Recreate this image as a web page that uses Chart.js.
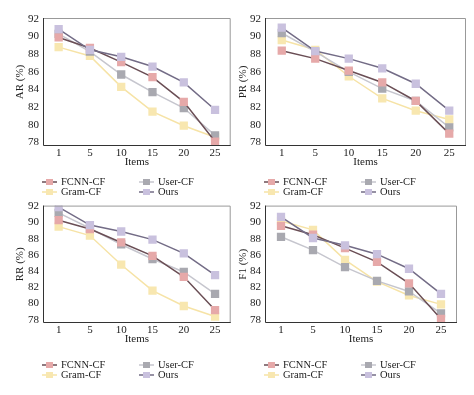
<!DOCTYPE html>
<html>
<head>
<meta charset="utf-8">
<script src="https://cdn.jsdelivr.net/npm/chart.js@4"></script>
<style>
  body { margin: 0; background: #fff; }
  .panel { position: absolute; width: 237px; height: 195px; }
</style>
</head>
<body>
<div class="panel" style="left:0;top:0"><canvas id="arChart"></canvas></div>
<div class="panel" style="left:237px;top:0"><canvas id="prChart"></canvas></div>
<div class="panel" style="left:0;top:195px;height:200px"><canvas id="rrChart"></canvas></div>
<div class="panel" style="left:237px;top:195px;height:200px"><canvas id="f1Chart"></canvas></div>
<script>
const items = ["1", "5", "10", "15", "20", "25"];
const yTicks = [78, 80, 82, 84, 86, 88, 90, 92];

// AR (%)
const arFcnn = [89.9, 88.7, 87.1, 85.4, 82.6, 78.1];
const arGram = [88.8, 87.8, 84.3, 81.5, 79.9, 78.6];
const arUser = [90.3, 88.3, 85.7, 83.7, 81.9, 78.8];
const arOurs = [90.85, 88.5, 87.7, 86.6, 84.8, 81.7];

// PR (%)
const prFcnn = [88.4, 87.5, 86.15, 84.8, 82.7, 79.0];
const prGram = [89.6, 88.5, 85.5, 83.0, 81.6, 80.6];
const prUser = [90.4, 88.3, 86.0, 84.1, 82.7, 79.7];
const prOurs = [91.0, 88.35, 87.5, 86.4, 84.65, 81.6];

// RR (%)
const rrFcnn = [90.3, 89.2, 87.55, 85.9, 83.3, 79.2];
const rrGram = [89.5, 88.4, 84.8, 81.6, 79.7, 78.4];
const rrUser = [91.2, 89.3, 87.3, 85.5, 83.9, 81.2];
const rrOurs = [91.9, 89.7, 88.9, 87.9, 86.2, 83.5];

// F1 (%)
const f1Fcnn = [89.6, 88.5, 86.85, 85.15, 82.5, 78.1];
const f1Gram = [90.2, 89.1, 85.4, 82.7, 81.0, 79.9];
const f1User = [88.25, 86.6, 84.5, 82.8, 81.5, 78.8];
const f1Ours = [90.7, 88.1, 87.2, 86.1, 84.3, 81.2];

const seriesStyle = {
  "FCNN-CF": { line: "#6a4e55", point: "#e6a9a9" },
  "Gram-CF": { line: "#f6e3a6", point: "#f8e7b0" },
  "User-CF": { line: "#c6c6ce", point: "#a9a9b0" },
  "Ours":    { line: "#736c86", point: "#c9c1de" }
};

const FONT = "'Liberation Serif', 'DejaVu Serif', serif";
const FS = 11;

// frame around the plot area: dark left/bottom, grey top/right
const framePlugin = {
  id: "frame",
  afterDraw(chart) {
    const { ctx, chartArea: a } = chart;
    ctx.save();
    ctx.lineWidth = 1;
    ctx.strokeStyle = "#999";
    ctx.beginPath();
    ctx.moveTo(a.left, a.top + 0.5);
    ctx.lineTo(a.right - 0.5, a.top + 0.5);
    ctx.lineTo(a.right - 0.5, a.bottom);
    ctx.stroke();
    ctx.strokeStyle = "#333";
    ctx.beginPath();
    ctx.moveTo(a.left + 0.5, a.top);
    ctx.lineTo(a.left + 0.5, a.bottom - 0.5);
    ctx.lineTo(a.right, a.bottom - 0.5);
    ctx.stroke();
    ctx.restore();
  }
};

// 2x2 legend, column-major: FCNN / Gram on the left, User / Ours on the right
const legendPlugin = {
  id: "gridLegend",
  afterDraw(chart, args, opts) {
    const { ctx } = chart;
    ctx.save();
    ctx.font = "10.5px " + FONT;
    ctx.textBaseline = "middle";
    chart.data.datasets.forEach((ds, i) => {
      const col = Math.floor(i / 2), row = i % 2;
      const x = opts.x + col * opts.colGap;
      const y = opts.y + row * opts.rowGap;
      ctx.strokeStyle = ds.borderColor;
      ctx.lineWidth = 1.5;
      ctx.beginPath();
      ctx.moveTo(x, y);
      ctx.lineTo(x + 15, y);
      ctx.stroke();
      ctx.fillStyle = ds.pointBackgroundColor;
      ctx.fillRect(x + 4, y - 3, 7, 6);
      ctx.fillStyle = "#222";
      ctx.fillText(ds.label, x + 19, y + 0.5);
    });
    ctx.restore();
  }
};

function makeChart(id, yLabel, fcnn, gram, user, ours, box) {
  const data = { "FCNN-CF": fcnn, "Gram-CF": gram, "User-CF": user, "Ours": ours };
  const datasets = Object.keys(data).map(name => ({
    label: name,
    data: data[name],
    borderColor: seriesStyle[name].line,
    pointBackgroundColor: seriesStyle[name].point,
    pointBorderColor: seriesStyle[name].point,
    pointStyle: "rect",
    pointRadius: 4.8,
    borderWidth: 1.5,
    tension: 0
  }));
  // draw "Ours" on top, FCNN next
  datasets[0].order = 1;
  datasets[3].order = 0;
  datasets[1].order = 3;
  datasets[2].order = 2;

  return new Chart(document.getElementById(id), {
    type: "line",
    data: { labels: items, datasets },
    options: {
      responsive: true,
      maintainAspectRatio: false,
      animation: false,
      layout: { padding: { left: box.left, right: box.right, top: box.top, bottom: box.bottom } },
      plugins: {
        legend: { display: false },
        tooltip: { enabled: false },
        gridLegend: box.legend
      },
      scales: {
        x: {
          offset: true,
          grid: { display: false, drawTicks: false },
          border: { display: false },
          ticks: { color: "#222", font: { family: FONT, size: FS }, padding: 1, maxRotation: 0 },
          title: { display: true, text: "Items", color: "#222", font: { family: FONT, size: FS }, padding: { top: 0, bottom: 0 } },
          afterFit: s => { s.height = box.xh; }
        },
        y: {
          min: 77.6,
          max: 92.1,
          afterBuildTicks: s => { s.ticks = yTicks.map(v => ({ value: v })); },
          grid: { display: false, drawTicks: false },
          border: { display: false },
          ticks: { color: "#222", font: { family: FONT, size: FS }, padding: 4, autoSkip: false },
          title: { display: true, text: yLabel, color: "#222", font: { family: FONT, size: FS }, padding: { top: 0, bottom: 2 } },
          afterFit: s => { s.width = box.yw; }
        }
      }
    },
    plugins: [framePlugin, legendPlugin]
  });
}

makeChart("arChart", "AR (%)", arFcnn, arGram, arUser, arOurs,
  { left: 14, yw: 29, right: 4, top: 18, xh: 23, bottom: 26, legend: { x: 42, y: 182, colGap: 97, rowGap: 10 } });
makeChart("prChart", "PR (%)", prFcnn, prGram, prUser, prOurs,
  { left: 0, yw: 28, right: 8, top: 18, xh: 23, bottom: 26, legend: { x: 27, y: 182, colGap: 97, rowGap: 10 } });
makeChart("rrChart", "RR (%)", rrFcnn, rrGram, rrUser, rrOurs,
  { left: 14, yw: 29, right: 4, top: 7, xh: 23, bottom: 49, legend: { x: 42, y: 170, colGap: 97, rowGap: 10 } });
makeChart("f1Chart", "F1 (%)", f1Fcnn, f1Gram, f1User, f1Ours,
  { left: 0, yw: 28, right: 17, top: 7, xh: 23, bottom: 49, legend: { x: 27, y: 170, colGap: 97, rowGap: 10 } });
</script>
</body>
</html>
